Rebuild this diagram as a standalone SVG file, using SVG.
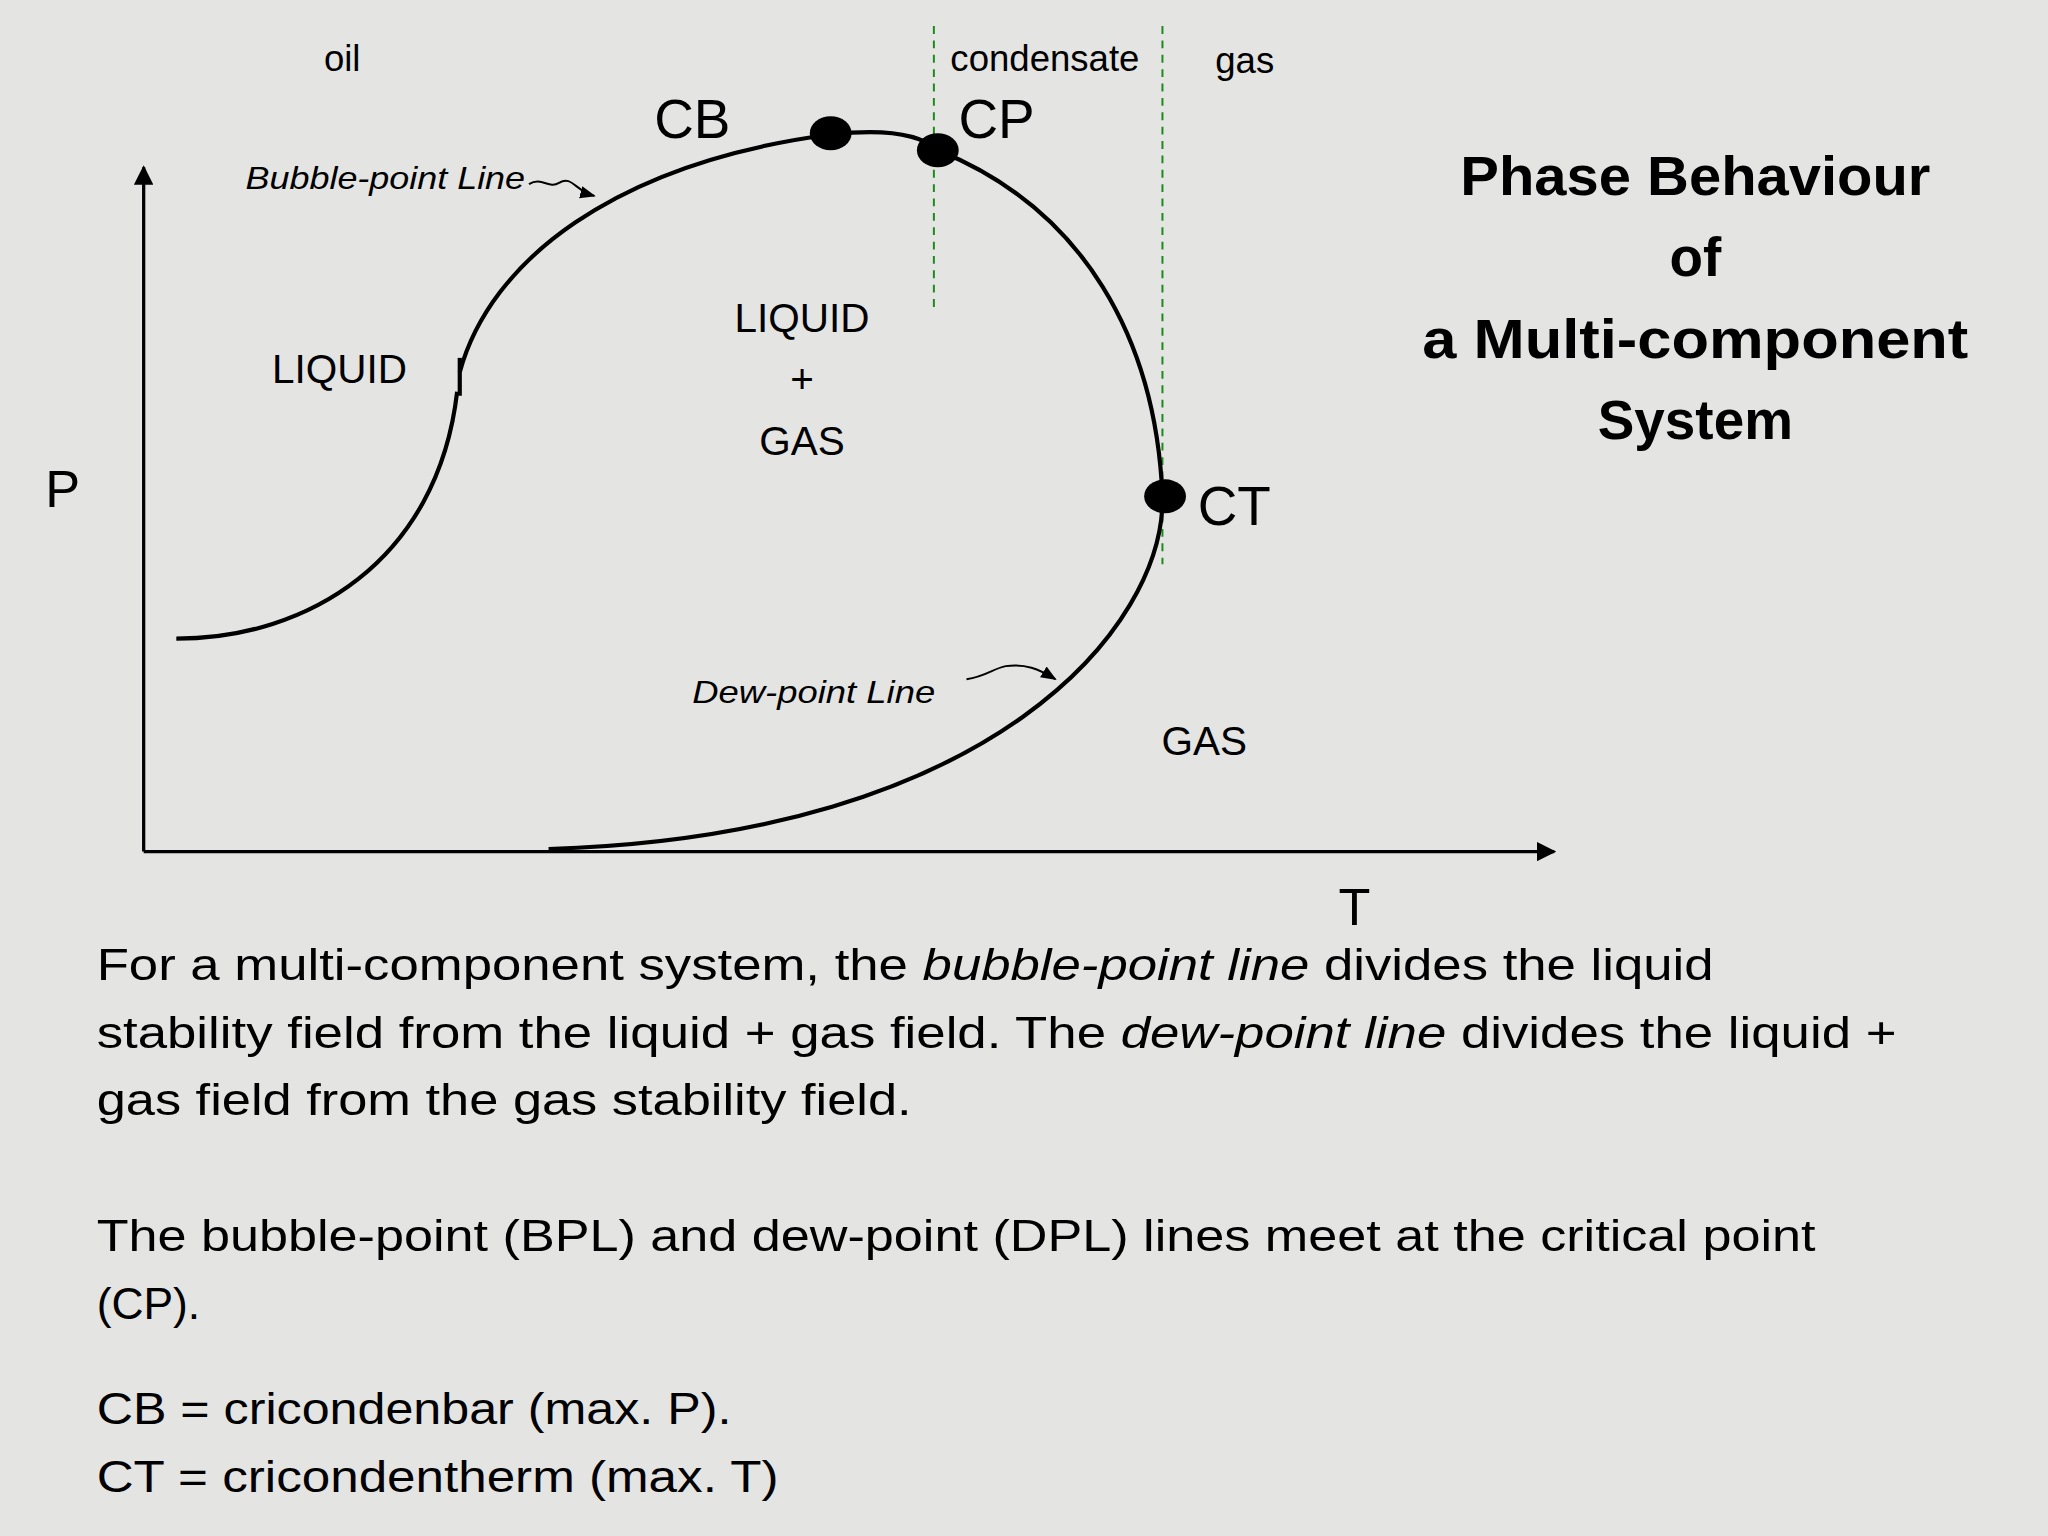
<svg xmlns="http://www.w3.org/2000/svg" width="2048" height="1536" viewBox="0 0 2048 1536">
<style>
.t{font-family:"Liberation Sans",Arial,sans-serif;fill:#000}
.c{fill:none;stroke:#000;stroke-width:3.2}
.g{stroke:#1a8a1a;stroke-width:1.5;stroke-dasharray:6 5}
</style>
<defs>
<marker id="ah" viewBox="0 0 10 10" refX="9" refY="5" markerWidth="6" markerHeight="6" orient="auto"><path d="M0,0L10,5L0,10z" fill="#000"/></marker>
<marker id="sa" viewBox="0 0 10 10" refX="9" refY="5" markerWidth="8" markerHeight="8" orient="auto"><path d="M0,1L10,5L0,9z" fill="#000"/></marker>
</defs>
<rect width="2048" height="1536" fill="#e4e4e2"/>
<g transform="scale(1.30612)">
<g id="axes">
<line x1="110" y1="652" x2="110" y2="128" stroke="#000" stroke-width="2.5" marker-end="url(#ah)"/>
<line x1="110" y1="652" x2="1190" y2="652" stroke="#000" stroke-width="2.5" marker-end="url(#ah)"/>
<text class="t" x="48" y="388" font-size="40" text-anchor="middle">P</text>
<text class="t" x="1037" y="708" font-size="40" text-anchor="middle">T</text>
</g>
<g id="guides">
<line class="g" x1="715" y1="20" x2="715" y2="240"/>
<line class="g" x1="890" y1="20" x2="890" y2="432"/>
<text class="t" x="262" y="54" font-size="28" text-anchor="middle">oil</text>
<text class="t" x="800" y="54" font-size="28" text-anchor="middle">condensate</text>
<text class="t" x="953" y="56" font-size="28" text-anchor="middle">gas</text>
</g>
<g id="envelope">
<path class="c" d="M135,489 C235,489 335,430 350,300"/>
<line x1="352" y1="274" x2="352" y2="303" stroke="#000" stroke-width="3.2"/>
<path class="c" d="M352,285 C375,200 470,125 636,103 C680,98 705,103 718,115 C830,160 885,260 890,380 C892,480 760,640 420,650"/>
</g>
<g id="CB"><ellipse cx="636" cy="102" rx="16" ry="13"/><text class="t" x="530" y="106" font-size="42" text-anchor="middle">CB</text></g>
<g id="CP"><ellipse cx="718" cy="115" rx="16" ry="13"/><text class="t" x="763" y="106" font-size="42" text-anchor="middle">CP</text></g>
<g id="CT"><ellipse cx="892" cy="380" rx="16" ry="13"/><text class="t" x="945" y="402" font-size="42" text-anchor="middle">CT</text></g>
<g id="labels">
<text class="t" x="188" y="145" font-size="24" font-style="italic" textLength="214" lengthAdjust="spacingAndGlyphs">Bubble-point Line</text>
<path d="M405,141 C415,135 420,145 428,140 C438,134 440,146 455,150" fill="none" stroke="#000" stroke-width="1.5" marker-end="url(#sa)"/>
<text class="t" x="530" y="538" font-size="24" font-style="italic" textLength="186" lengthAdjust="spacingAndGlyphs">Dew-point Line</text>
<path d="M740,520 C755,518 760,512 770,510 C785,508 795,512 808,520" fill="none" stroke="#000" stroke-width="1.5" marker-end="url(#sa)"/>
<text class="t" x="260" y="293" font-size="31" text-anchor="middle">LIQUID</text>
<text class="t" x="614" y="254" font-size="31" text-anchor="middle">LIQUID</text>
<text class="t" x="614" y="301" font-size="31" text-anchor="middle">+</text>
<text class="t" x="614" y="348" font-size="31" text-anchor="middle">GAS</text>
<text class="t" x="922" y="578" font-size="31" text-anchor="middle">GAS</text>
</g>
<g id="title" font-weight="bold">
<text class="t" x="1298" y="149" font-size="42" text-anchor="middle" textLength="360" lengthAdjust="spacingAndGlyphs">Phase Behaviour</text>
<text class="t" x="1298" y="211" font-size="42" text-anchor="middle">of</text>
<text class="t" x="1298" y="274" font-size="42" text-anchor="middle" textLength="418" lengthAdjust="spacingAndGlyphs">a Multi-component</text>
<text class="t" x="1298" y="336" font-size="42" text-anchor="middle">System</text>
</g>
<g id="body" font-size="34">
<text class="t" x="74" y="750" textLength="1238" lengthAdjust="spacingAndGlyphs">For a multi-component system, the <tspan font-style="italic">bubble-point line</tspan> divides the liquid</text>
<text class="t" x="74" y="802" textLength="1378" lengthAdjust="spacingAndGlyphs">stability field from the liquid + gas field. The <tspan font-style="italic">dew-point line</tspan> divides the liquid +</text>
<text class="t" x="74" y="854" textLength="624" lengthAdjust="spacingAndGlyphs">gas field from the gas stability field.</text>
<text class="t" x="74" y="958" textLength="1316" lengthAdjust="spacingAndGlyphs">The bubble-point (BPL) and dew-point (DPL) lines meet at the critical point</text>
<text class="t" x="74" y="1010">(CP).</text>
<text class="t" x="74" y="1090" textLength="486" lengthAdjust="spacingAndGlyphs">CB = cricondenbar (max. P).</text>
<text class="t" x="74" y="1142" textLength="522" lengthAdjust="spacingAndGlyphs">CT = cricondentherm (max. T)</text>
</g>
</g>
</svg>
